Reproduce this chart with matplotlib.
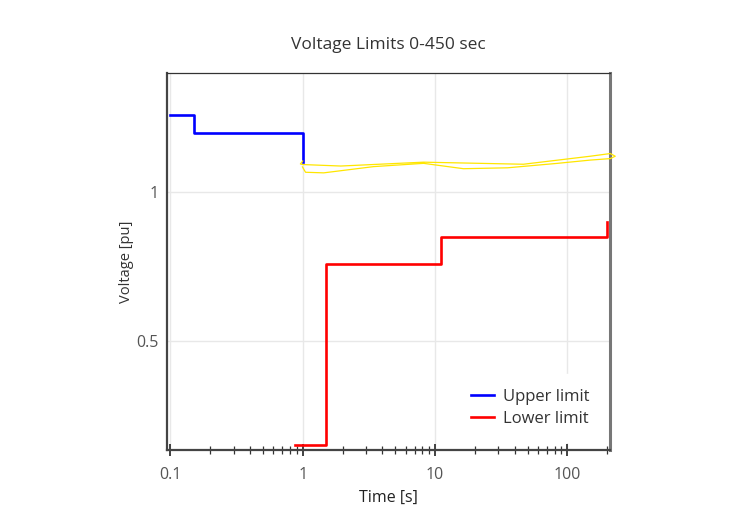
import numpy as np
import matplotlib as mpl
mpl.use('Agg')
import matplotlib.pyplot as plt
from matplotlib.ticker import LogLocator, FixedLocator, NullFormatter

plt.rcParams['font.family'] = ['Open Sans', 'DejaVu Sans']

# Upper limit step curve (time s, voltage pu)
upper_t = [0.1, 0.15, 0.15, 1.0, 1.0]
upper_v = [1.26, 1.26, 1.2, 1.2, 1.1]

# Lower limit step curve
lower_t = [0.875, 1.5, 1.5, 11.0, 11.0, 200.0, 200.0]
lower_v = [0.15, 0.15, 0.757, 0.757, 0.85, 0.85, 0.9]

# Hand-drawn yellow highlight loop
mark_t = [1.0, 0.96, 0.995, 1.94, 8.19, 46.5, 149, 211, 230, 211, 149, 84.1, 35.3,
          16.4, 8.19, 3.43, 1.44, 1.05, 0.995]
mark_v = [1.105, 1.095, 1.093, 1.088, 1.101, 1.094, 1.121, 1.130, 1.121, 1.113, 1.108,
          1.097, 1.082, 1.079, 1.097, 1.086, 1.065, 1.067, 1.085]

title = 'Voltage Limits 0-450 sec'
xlabel = 'Time [s]'
ylabel = 'Voltage [pu]'
xticks = [0.1, 1, 10, 100]
xticklabels = ['0.1', '1', '10', '100']
yticks = [0.5, 1.0]
yticklabels = ['0.5', '1']


fig = plt.figure(figsize=(7.3, 5.31), dpi=100)
ax = fig.add_axes([0.229, 0.1525, 0.607, 0.7105])

ax.plot(upper_t, upper_v, color='#0000ff', lw=1.9, label='Upper limit', zorder=3)
ax.plot(lower_t, lower_v, color='#ff0000', lw=1.9, label='Lower limit', zorder=3)
ax.plot(mark_t, mark_v, color='#ffe600', lw=0.9, zorder=4, clip_on=False)

ax.set_xscale('log')
ax.set_xlim(0.0945, 211)
ax.set_ylim(0.132, 1.402)

ax.xaxis.set_major_locator(FixedLocator(xticks))
ax.set_xticklabels(xticklabels)
ax.xaxis.set_minor_locator(LogLocator(base=10, subs=np.arange(2, 10)))
ax.xaxis.set_minor_formatter(NullFormatter())
ax.set_yticks(yticks)
ax.set_yticklabels(yticklabels)

ax.tick_params(axis='x', which='major', direction='inout', length=9, width=1.3,
               color='#333333', labelsize=11.5, labelcolor='#555555', pad=8)
ax.tick_params(axis='x', which='minor', direction='inout', length=6, width=0.9,
               color='#333333')
ax.tick_params(axis='y', length=0, labelsize=11.5, labelcolor='#555555', pad=6)

ax.grid(True, which='major', color='#e8e8e8', lw=1.0)
ax.set_axisbelow(True)

for side in ['left', 'bottom']:
    ax.spines[side].set_color('#444444')
    ax.spines[side].set_linewidth(1.6)
ax.spines['top'].set_color('#333333')
ax.spines['top'].set_linewidth(0.9)
ax.spines['right'].set_color('#777777')
ax.spines['right'].set_linewidth(2.2)

ax.set_title(title, fontsize=12.5, color='#333333', pad=17)
ax.set_xlabel(xlabel, fontsize=11.5, color='#222222', labelpad=5)
ax.set_ylabel(ylabel, fontsize=10.5, color='#333333', labelpad=2)

leg = ax.legend(loc='lower right', frameon=True, fontsize=12, handlelength=1.4,
                handletextpad=0.5, borderpad=0.9, labelspacing=0.35,
                bbox_to_anchor=(1.005, 0.0))
leg.get_frame().set_edgecolor('white')
leg.get_frame().set_facecolor('white')
leg.get_frame().set_alpha(1.0)
for t in leg.get_texts():
    t.set_color('#333333')

fig.savefig('out.png', dpi=100)
